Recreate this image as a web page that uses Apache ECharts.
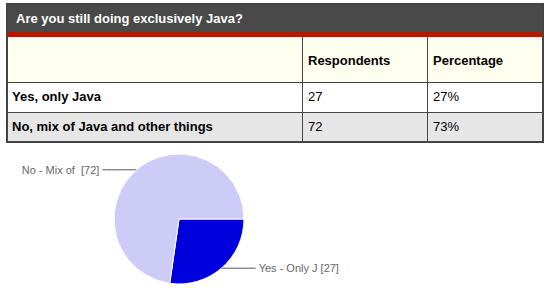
<!DOCTYPE html>
<html>
<head>
<meta charset="utf-8">
<script src="https://cdn.jsdelivr.net/npm/echarts@6/dist/echarts.min.js"></script>
<style>
html,body{margin:0;padding:0;background:#fff;}
#chart{width:550px;height:291px;}
</style>
</head>
<body>
<div id="chart"></div>
<script>
const title = 'Are you still doing exclusively Java?';
const columns = ['', 'Respondents', 'Percentage'];
const answers = ['Yes, only Java', 'No, mix of Java and other things'];
const respondents = [27, 72];
const percentages = ['27%', '73%'];
const pieLabels = ['Yes - Only J', 'No - Mix of '];
const pieColors = ['#0000dd', '#ccccf6'];

const FONT = 'Arial, "Liberation Sans", sans-serif';
const T = {left: 6, right: 544, top: 3, headEnd: 32, redEnd: 37, hdrEnd: 82, rowH: 30};
const colX = [6, 302, 427];
const textX = [12, 308, 433];
const rowFills = ['#ffffff', '#e6e6e6'];

const graphic = [];
// title bar
graphic.push({type: 'rect', shape: {x: T.left, y: T.top, width: T.right - T.left, height: T.headEnd - T.top}, style: {fill: '#494949'}});
graphic.push({type: 'rect', shape: {x: T.left, y: T.headEnd, width: T.right - T.left, height: T.redEnd - T.headEnd}, style: {fill: '#b01a00'}});
graphic.push({type: 'text', x: 16, y: 18, style: {text: title, fill: '#ffffff', font: 'bold 13px ' + FONT, verticalAlign: 'middle'}});
// header row
graphic.push({type: 'rect', shape: {x: T.left, y: T.redEnd, width: T.right - T.left, height: T.hdrEnd - T.redEnd}, style: {fill: '#fffff0'}});
columns.forEach((c, i) => {
  if (c) graphic.push({type: 'text', x: textX[i], y: 60, style: {text: c, fill: '#000', font: 'bold 13px ' + FONT, verticalAlign: 'middle'}});
});
// body rows
answers.forEach((a, r) => {
  const y0 = T.hdrEnd + r * T.rowH;
  graphic.push({type: 'rect', shape: {x: T.left, y: y0, width: T.right - T.left, height: T.rowH}, style: {fill: rowFills[r]}});
  const cy = y0 + 14.5;
  graphic.push({type: 'text', x: textX[0], y: cy, style: {text: a, fill: '#000', font: 'bold 13px ' + FONT, verticalAlign: 'middle'}});
  graphic.push({type: 'text', x: textX[1], y: cy, style: {text: String(respondents[r]), fill: '#000', font: '13px ' + FONT, verticalAlign: 'middle'}});
  graphic.push({type: 'text', x: textX[2], y: cy, style: {text: percentages[r], fill: '#000', font: '13px ' + FONT, verticalAlign: 'middle'}});
});
const bottom = T.hdrEnd + answers.length * T.rowH;
// grid lines
for (let r = 0; r < answers.length; r++) {
  const y = T.hdrEnd + r * T.rowH + 0.5;
  graphic.push({type: 'line', shape: {x1: T.left, y1: y, x2: T.right, y2: y}, style: {stroke: '#444', lineWidth: 1}});
}
for (let i = 1; i < colX.length; i++) {
  graphic.push({type: 'line', shape: {x1: colX[i] + 0.5, y1: T.redEnd, x2: colX[i] + 0.5, y2: bottom}, style: {stroke: '#444', lineWidth: 1}});
}
// outer border
graphic.push({type: 'rect', shape: {x: T.left + 1, y: T.top + 1, width: T.right - T.left - 2, height: bottom - T.top - 1}, style: {fill: 'none', stroke: '#444', lineWidth: 2}});

const chart = echarts.init(document.getElementById('chart'), null, {renderer: 'svg'});
chart.setOption({
  animation: false,
  graphic: graphic,
  series: [{
    type: 'pie',
    center: [179, 219],
    radius: 65,
    startAngle: 0,
    clockwise: true,
    avoidLabelOverlap: false,
    data: pieLabels.map((n, i) => ({name: n, value: respondents[i], itemStyle: {color: pieColors[i]}})),
    itemStyle: {borderColor: '#fff', borderWidth: 1},
    label: {
      show: true, position: 'outside', formatter: '{b} [{c}]',
      color: '#666', fontSize: 11, fontFamily: FONT, distanceToLabelLine: 3
    },
    labelLine: {show: true, length: 0.1, length2: 34, smooth: false, lineStyle: {color: '#555', width: 1}},
    emphasis: {disabled: true}
  }]
});
</script>
</body>
</html>
